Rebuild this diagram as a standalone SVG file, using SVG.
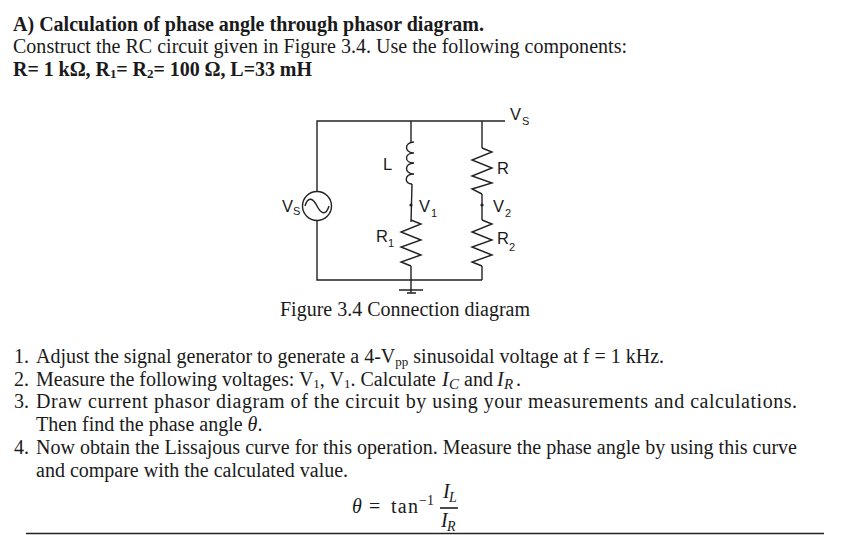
<svg xmlns="http://www.w3.org/2000/svg" width="858" height="535" viewBox="0 0 858 535">
<style>
text{font-family:"Liberation Serif","Times New Roman",serif;font-size:20px;fill:#1a1a1a}
.b{font-weight:bold}
.s{font-family:"Liberation Sans",Arial,sans-serif;font-size:16.5px}
.u{font-family:"Liberation Sans",Arial,sans-serif;font-size:11px}
.sup{font-size:14px}
.l{font-size:15px}
.w{fill:none;stroke:#222;stroke-width:1.4}
</style>
<rect width="858" height="535" fill="#fff"/>
<text class="b" x="13" y="31" textLength="471" lengthAdjust="spacing">A) Calculation of phase angle through phasor diagram.</text>
<text x="13" y="53" textLength="614" lengthAdjust="spacing">Construct the RC circuit given in Figure 3.4. Use the following components:</text>
<text class="b" x="13" y="76" textLength="299" lengthAdjust="spacing">R= 1 kΩ, R<tspan font-size="13" dy="2">1</tspan><tspan dy="-2">= R</tspan><tspan font-size="13" dy="2">2</tspan><tspan dy="-2">= 100 Ω, L=33 mH</tspan></text>
<g id="connectors" class="w">
<path d="M317 191V121H505"/>
<path d="M317 221V280H482"/>
<path d="M411 121V142"/>
<path d="M412 184L411 222"/>
<path d="M411 266V293"/>
<path d="M482 121V148"/>
<path d="M482 194V220"/>
<path d="M482 266V280"/>
</g>
<g id="source"><circle class="w" cx="317" cy="206" r="14.5"/><path class="w" d="M305 206C308 196 313 198 317 206S326 216 329 206"/><text class="s" x="282" y="212">V</text><text class="u" x="293" y="215">S</text></g>
<g id="inductor"><path class="w" stroke-width="1.6" d="M414 142C404 142 404 153 414 153C404 153 404 163 414 163C404 163 404 174 414 174C404 174 404 184 412 184"/><text class="s" x="383" y="170">L</text></g>
<g id="r1"><path class="w" d="M411 220L421 224 401 232 421 240 401 247 421 255 401 262 411 266"/><text class="s" x="376" y="242">R</text><text class="u" x="388" y="247">1</text></g>
<g id="r"><path class="w" d="M482 148L492 152 472 160 492 168 472 176 492 183 472 189 482 194"/><text class="s" x="497" y="174">R</text></g>
<g id="r2"><path class="w" d="M482 220L492 224 472 232 492 240 472 247 492 255 472 262 482 266"/><text class="s" x="497" y="244">R</text><text class="u" x="509" y="251">2</text></g>
<g id="v1"><circle cx="411" cy="205" r="1.6" fill="#222"/><text class="s" x="419" y="212">V</text><text class="u" x="431" y="217">1</text></g>
<g id="v2"><circle cx="482" cy="205" r="1.6" fill="#222"/><text class="s" x="493" y="212">V</text><text class="u" x="505" y="217">2</text></g>
<g id="vs-top"><text class="s" x="510" y="120">V</text><text class="u" x="522" y="125">S</text></g>
<g id="ground"><path class="w" d="M399 290H423M407 293H416"/></g>
<text x="280" y="316" textLength="250" lengthAdjust="spacing">Figure 3.4 Connection diagram</text>
<text x="14" y="363">1.</text>
<text x="36" y="363">Adjust the signal generator to generate a 4-V<tspan font-size="13" dy="3">pp</tspan><tspan dy="-3"> sinusoidal voltage at f = 1 kHz.</tspan></text>
<text x="14" y="385.5">2.</text>
<text x="36" y="385.5">Measure the following voltages: V<tspan font-size="13" dy="2">1</tspan><tspan dy="-2">, V</tspan><tspan font-size="13" dy="2">1</tspan><tspan dy="-2">. Calculate </tspan><tspan x="442" font-style="italic">I</tspan><tspan x="449" dy="3.5" font-size="15" font-style="italic">C</tspan><tspan x="464" dy="-3.5">and </tspan><tspan x="497" font-style="italic">I</tspan><tspan x="504" dy="3.5" font-size="15" font-style="italic">R</tspan><tspan x="516" dy="-3.5">.</tspan></text>
<text x="14" y="408">3.</text>
<text x="36" y="408" textLength="761" lengthAdjust="spacing">Draw current phasor diagram of the circuit by using your measurements and calculations.</text>
<text x="36" y="431">Then find the phase angle <tspan font-style="italic">θ</tspan>.</text>
<text x="14" y="454">4.</text>
<text x="36" y="454" textLength="761" lengthAdjust="spacing">Now obtain the Lissajous curve for this operation. Measure the phase angle by using this curve</text>
<text x="36" y="477">and compare with the calculated value.</text>
<g id="formula">
<text x="352" y="513" font-style="italic">θ</text>
<text x="369" y="513">=</text>
<text x="391" y="513" textLength="27" lengthAdjust="spacing">tan</text>
<text class="sup" x="419" y="505">−1</text>
<text x="443" y="498" font-style="italic">I<tspan x="449" dy="4" font-size="14">L</tspan></text>
<path d="M440 508H458" stroke="#111" stroke-width="1.5"/>
<text x="441" y="527" font-style="italic">I<tspan x="447" dy="4" font-size="14">R</tspan></text>
</g>
<path d="M26 533.5H824" stroke="#222" stroke-width="1.5"/>
</svg>
